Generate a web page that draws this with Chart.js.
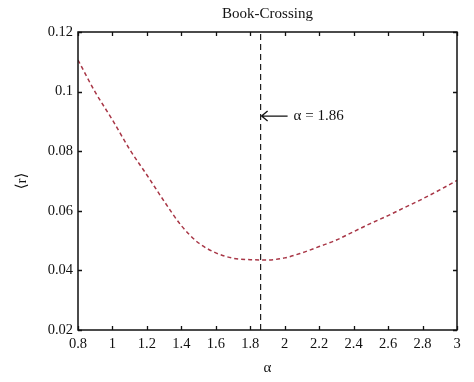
<!DOCTYPE html>
<html>
<head>
<meta charset="utf-8">
<script src="https://cdn.jsdelivr.net/npm/chart.js@4/dist/chart.umd.min.js"></script>
<style>
  html, body { margin: 0; padding: 0; background: #fff; }
  #wrap { width: 474px; height: 382px; }
</style>
</head>
<body>
<div id="wrap"><canvas id="chart" width="474" height="382"></canvas></div>
<script>
'use strict';

// ── data ──
const ALPHA = [0.8, 0.9, 1.0, 1.1, 1.2, 1.3, 1.4, 1.5, 1.6, 1.7, 1.8, 1.9,
               2.0, 2.1, 2.2, 2.3, 2.4, 2.5, 2.6, 2.7, 2.8, 2.9, 3.0];
const MEAN_R = [0.1106, 0.0998, 0.0905, 0.0806, 0.0720, 0.0632, 0.0550, 0.0492,
                0.0459, 0.0441, 0.0436, 0.0435, 0.0442, 0.0459, 0.0480, 0.0502,
                0.0530, 0.0558, 0.0584, 0.0612, 0.0640, 0.0670, 0.0702];
const BEST_ALPHA = 1.86;
const Y_RANGE = [0.02, 0.12];
const X_TICKS = ['0.8', '1', '1.2', '1.4', '1.6', '1.8', '2', '2.2', '2.4', '2.6', '2.8', '3'];
const Y_TICKS = ['0.02', '0.04', '0.06', '0.08', '0.1', '0.12'];

const SERIF = '"Liberation Serif", "DejaVu Serif", serif';

// frame, inward ticks on all four sides, title and the α marker note
const framePlugin = {
  id: 'frame',
  afterDraw(chart) {
    const { ctx, chartArea: a, scales: { x, y } } = chart;
    ctx.save();
    ctx.strokeStyle = '#111';
    ctx.lineWidth = 1.5;
    ctx.strokeRect(a.left, a.top, a.right - a.left, a.bottom - a.top);

    const len = 4;
    ctx.lineWidth = 1.3;
    ctx.beginPath();
    x.ticks.forEach(t => {
      const px = Math.round(x.getPixelForValue(t.value)) + 0.5;
      ctx.moveTo(px, a.bottom); ctx.lineTo(px, a.bottom - len);
      ctx.moveTo(px, a.top);    ctx.lineTo(px, a.top + len);
    });
    y.ticks.forEach(t => {
      const py = Math.round(y.getPixelForValue(t.value)) + 0.5;
      ctx.moveTo(a.left, py);  ctx.lineTo(a.left + len, py);
      ctx.moveTo(a.right, py); ctx.lineTo(a.right - len, py);
    });
    ctx.stroke();

    // title
    ctx.fillStyle = '#111';
    ctx.font = '15px ' + SERIF;
    ctx.textAlign = 'center';
    ctx.textBaseline = 'middle';
    ctx.fillText('Book-Crossing', (a.left + a.right) / 2, 14);

    // arrow pointing at the dashed line
    const ax = x.getPixelForValue(BEST_ALPHA) + 1;
    const ay = y.getPixelForValue(0.0918);
    ctx.lineWidth = 1.3;
    ctx.beginPath();
    ctx.moveTo(ax, ay); ctx.lineTo(ax + 26, ay);
    ctx.moveTo(ax + 6, ay - 5); ctx.lineTo(ax, ay); ctx.lineTo(ax + 6, ay + 5);
    ctx.stroke();
    ctx.textAlign = 'left';
    ctx.fillText('\u03b1 = ' + BEST_ALPHA, ax + 32, ay);
    ctx.restore();
  },
};

new Chart(document.getElementById('chart'), {
  type: 'line',
  data: {
    datasets: [
      {
        data: ALPHA.map((a, i) => ({ x: a, y: MEAN_R[i] })),
        borderColor: '#a83646',
        borderWidth: 1.5,
        borderDash: [4, 3],
        pointRadius: 0,
        cubicInterpolationMode: 'monotone',
      },
      {
        data: [{ x: BEST_ALPHA, y: Y_RANGE[0] }, { x: BEST_ALPHA, y: Y_RANGE[1] }],
        borderColor: '#222',
        borderWidth: 1.2,
        borderDash: [6, 4],
        pointRadius: 0,
      },
    ],
  },
  options: {
    responsive: false,
    animation: false,
    layout: { padding: { left: 0, right: 17, top: 32, bottom: 0 } },
    plugins: { legend: { display: false }, tooltip: { enabled: false } },
    scales: {
      x: {
        type: 'linear',
        min: 0.8, max: 3,
        afterFit: s => { s.height = 52; },
        border: { display: false },
        grid: { display: false, drawTicks: false },
        ticks: {
          stepSize: 0.2,
          padding: 5,
          color: '#111',
          font: { family: SERIF, size: 14.5 },
          maxRotation: 0,
          autoSkip: false,
          callback: (v, i) => X_TICKS[i],
        },
        title: {
          display: true, text: '\u03b1', color: '#111',
          font: { family: SERIF, size: 15 },
          padding: { top: 0, bottom: 5 },
        },
      },
      y: {
        min: Y_RANGE[0], max: Y_RANGE[1],
        afterFit: s => { s.width = 78; },
        border: { display: false },
        grid: { display: false, drawTicks: false },
        ticks: {
          stepSize: 0.02,
          padding: 5,
          color: '#111',
          font: { family: SERIF, size: 14.5 },
          callback: (v, i) => Y_TICKS[i],
        },
        title: {
          display: true, text: '\u27e8r\u27e9', color: '#111',
          font: { family: SERIF, size: 15 },
          padding: { top: 13, bottom: 0 },
        },
      },
    },
  },
  plugins: [framePlugin],
});
</script>
</body>
</html>
